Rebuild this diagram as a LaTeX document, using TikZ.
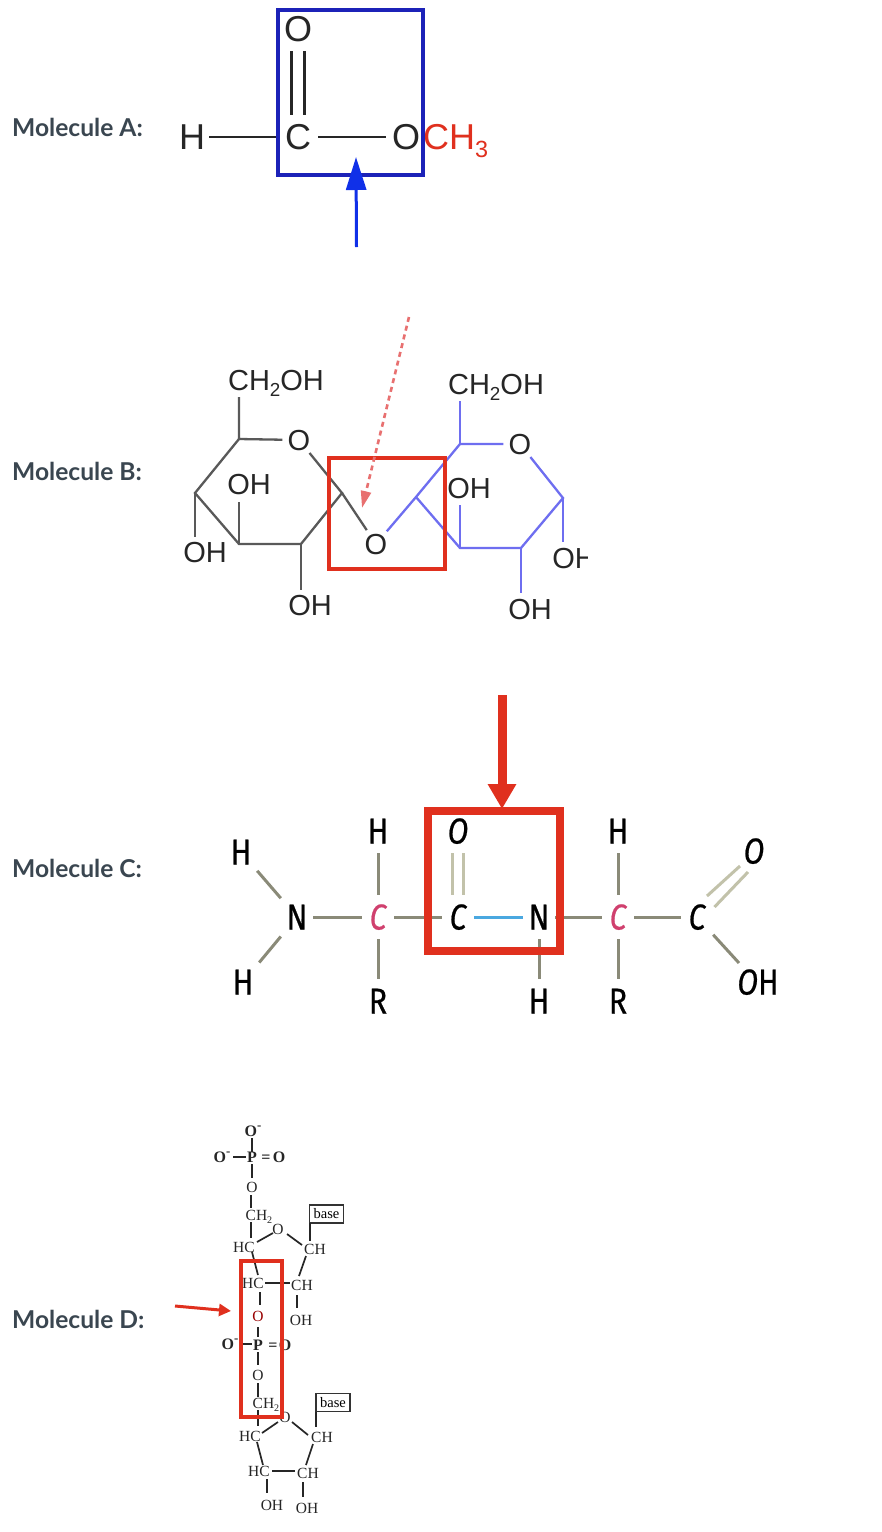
\documentclass[tikz,border=0pt]{standalone}
\usepackage{fontspec}
\usetikzlibrary{arrows.meta}
\setmainfont{Liberation Sans}
\newfontfamily\lblf{Lato}
\newfontfamily\handf[FakeStretch=0.84,FakeBold=0.6]{Fira Sans}
\newfontfamily\serf{Liberation Serif}
\newcommand{\subx}[1]{\raisebox{-.22em}{\scalebox{.65}{#1}}}
\newcommand{\supx}[1]{\raisebox{.42em}{\scalebox{.8}{#1}}}
\definecolor{lblc}{HTML}{3A4650}
\definecolor{boxblue}{HTML}{1C22B8}
\definecolor{arrblue}{HTML}{1030E8}
\definecolor{boxred}{HTML}{E0301E}
\definecolor{pinkarr}{HTML}{E87070}
\definecolor{sugarblue}{HTML}{6E6EF0}
\definecolor{sugartext}{HTML}{4A5CE6}
\definecolor{bondgray}{HTML}{8A8A78}
\definecolor{bondpale}{HTML}{C2C2AA}
\definecolor{pepblue}{HTML}{4AA8E0}
\definecolor{magc}{HTML}{D0406E}
\tikzset{
  lbl/.style={anchor=base west,inner sep=0pt,text=lblc,font=\lblf\bfseries\fontsize{24.6}{28}\selectfont},
  atomA/.style={inner sep=0pt,minimum width=40pt,minimum height=44pt,text height=25pt,text depth=0pt,text=black!85,font=\fontsize{36}{40}\selectfont},
  bondA/.style={line width=2.6pt,black!85},
  atomB/.style={inner sep=0pt,text height=20pt,text depth=0pt,text=black!85,font=\fontsize{29}{32}\selectfont},
  ringO/.style={atomB,circle,minimum size=33pt},
  bondB/.style={line width=2.3pt,black!65},
  bondS/.style={line width=2.3pt,sugarblue},
  atomC/.style={inner sep=0pt,minimum width=32pt,minimum height=44pt,text height=25pt,text depth=0pt,text=black,font=\handf\fontsize{36}{40}\selectfont},
  bondC/.style={line width=3pt,bondgray},
  atomD/.style={inner sep=0pt,text height=10.5pt,text depth=0pt,text=black!85,font=\serf\fontsize{15.5}{18}\selectfont},
  boldD/.style={atomD,font=\serf\bfseries\fontsize{16}{18}\selectfont},
  baseD/.style={draw=black!80,line width=1.2pt,inner sep=0pt,minimum width=34pt,minimum height=18pt,font=\serf\fontsize{14.5}{16}\selectfont},
  bondD/.style={line width=1.7pt,black!85}
}
\begin{document}
\begin{tikzpicture}[x=1pt,y=-1pt]
\useasboundingbox (0,0) rectangle (882,1532);
\fill[white] (0,0) rectangle (882,1532);
% labels
\node[lbl] (la) at (12,136) {Molecule A:};
\node[lbl] (lb) at (12,480) {Molecule B:};
\node[lbl] (lc) at (12,877) {Molecule C:};
\node[lbl] (ld) at (12,1328) {Molecule D:};

% ---------- Molecule A
\node[atomA] (aO) at (298,29) {O};
\node[atomA] (aC) at (298,137) {C};
\node[atomA,minimum width=34pt] (aH) at (192,137) {H};
\node[atomA] (aR) at (406,137) {O};
\node[atomA,anchor=west,minimum width=0pt,text=boxred] (aM) at (423,137) {CH\subx{3}};
\draw[bondA] ([xshift=-6.5pt]aC.north) -- ([xshift=-6.5pt]aO.south);
\draw[bondA] ([xshift=6.5pt]aC.north) -- ([xshift=6.5pt]aO.south);
\draw[bondA] (aH) -- (aC);
\draw[bondA] (aC) -- (aR);
\node[draw=boxblue,line width=4pt,minimum width=145pt,minimum height=165pt,inner sep=0pt] (aBox) at (350.5,92.5) {};
\coordinate (aT) at (356.5,247);
\coordinate (aP) at (356,157);
\draw[arrblue,line width=3pt,-{Triangle[width=20pt,length=33pt]}] (aT) -- (aP);

% ---------- Molecule B, black ring
\node[atomB] (b1) at (276,380) {CH\subx{2}OH};
\node[ringO] (bO) at (299,440) {O};
\node[atomB] (bh3) at (249,484) {OH};
\node[atomB] (bh4) at (205,552) {OH};
\node[atomB] (bh2) at (310,605) {OH};
\coordinate (v5) at (239,439);
\coordinate (v1) at (342,493);
\coordinate (v2) at (301,544);
\coordinate (v3) at (239,544);
\coordinate (v4) at (195,493);
\coordinate (s5) at (239,397);
\coordinate (s3) at (239,502);
\coordinate (s4) at (195,537);
\coordinate (s2) at (301,590);
\draw[bondB] (s5) -- (v5) -- (bO);
\draw[bondB] (bO) -- (v1) -- (v2) -- (v3) -- (v4) -- (v5);
\draw[bondB] (v4) -- (s4);
\draw[bondB] (v3) -- (s3);
\draw[bondB] (v2) -- (s2);
% blue ring
\begin{scope}[every node/.append style={text=sugartext}]
\node[ringO] (gO) at (376,544) {O};
\node[atomB] (g1) at (496,384) {CH\subx{2}OH};
\node[ringO] (rO) at (520,444) {O};
\node[atomB] (gh3) at (469,488) {OH};
\node[atomB] (gh2) at (530,609) {OH};
\begin{scope}
\clip (540,530) rectangle (587,585);
\node[atomB] (gh1) at (574,558) {OH};
\end{scope}
\end{scope}
\coordinate (w5) at (460,444);
\coordinate (w4) at (416,497);
\coordinate (w3) at (460,548);
\coordinate (w2) at (521,548);
\coordinate (w1) at (563,498);
\coordinate (t5) at (460,401);
\coordinate (t3) at (460,505);
\coordinate (t2) at (521,593);
\coordinate (t1) at (563,542);
\draw[bondB] (v1) -- (gO);
\draw[bondS] (gO) -- (w4) -- (w5) -- (rO);
\draw[bondS] (rO) -- (w1) -- (w2) -- (w3) -- (w4);
\draw[bondS] (t5) -- (w5);
\draw[bondS] (t3) -- (w3);
\draw[bondS] (w2) -- (t2);
\draw[bondS] (w1) -- (t1);
\node[draw=boxred,line width=4pt,minimum width=116pt,minimum height=111pt,inner sep=0pt] (bBox) at (387,513.5) {};
\coordinate (bT) at (409,317);
\coordinate (bP) at (362,508);
\draw[pinkarr,line width=2.6pt,dash pattern=on 5pt off 4pt,-{Triangle[width=10pt,length=17pt]}] (bT) -- (bP);

% ---------- Molecule C
\node[atomC] (cHa) at (241,852) {H};
\node[atomC] (cHb) at (243,982) {H};
\node[atomC] (cN1) at (297,917) {N};
\node[atomC,text=magc] (cC1) at (378,917) {\itshape C};
\node[atomC] (cH1) at (378,831) {H};
\node[atomC] (cR1) at (378,1001) {R};
\node[atomC] (cC2) at (458,917) {\itshape C};
\node[atomC] (cO2) at (458,831) {\itshape O};
\node[atomC] (cN2) at (539,917) {N};
\node[atomC] (cH2) at (539,1001) {H};
\node[atomC,text=magc] (cC3) at (618,917) {\itshape C};
\node[atomC] (cH3) at (618,831) {H};
\node[atomC] (cR3) at (618,1001) {R};
\node[atomC] (cC4) at (697,917) {\itshape C};
\node[atomC] (cO4) at (754,851) {\itshape O};
\node[atomC,minimum width=0pt] (cOH) at (758,982) {\itshape O\upshape H};
\coordinate (cOHe) at (739,963);
\coordinate (dbA1) at (707,896);
\coordinate (dbA2) at (740,866);
\coordinate (dbB1) at (714.5,907);
\coordinate (dbB2) at (748,872);
\draw[bondC] (cN1) -- (cHa);
\draw[bondC] (cN1) -- (cHb);
\draw[bondC] (cN1) -- (cC1);
\draw[bondC] (cC1) -- (cH1);
\draw[bondC] (cC1) -- (cR1);
\draw[bondC] (cC1) -- (cC2);
\draw[bondC,bondpale] ([xshift=-5.5pt]cC2.north) -- ([xshift=-5.5pt]cO2.south);
\draw[bondC,bondpale] ([xshift=5pt]cC2.north) -- ([xshift=5pt]cO2.south);
\draw[bondC,pepblue] (cC2) -- (cN2);
\draw[bondC] (cN2) -- (cC3);
\draw[bondC] (cN2) -- (cH2);
\draw[bondC] (cC3) -- (cH3);
\draw[bondC] (cC3) -- (cR3);
\draw[bondC] (cC3) -- (cC4);
\draw[bondC,bondpale] (dbA1) -- (dbA2);
\draw[bondC,bondpale] (dbB1) -- (dbB2);
\draw[bondC] (cC4) -- (cOHe);
\node[draw=boxred,line width=8.5pt,minimum width=132pt,minimum height=140pt,inner sep=0pt] (cBox) at (494,881) {};
\coordinate (cT) at (502,695);
\coordinate (cP) at (502,809);
\draw[boxred,line width=9pt,-{Triangle[width=27pt,length=25pt]}] (cT) -- (cP);

% ---------- Molecule D, upper nucleotide
\node[boldD] (dO1) at (253,1131) {O\supx{-}};
\node[boldD] (dP1) at (252,1157) {P};
\node[boldD] (dO2) at (222,1157) {O\supx{-}};
\node[boldD] (dEq1) at (266,1157) {=};
\node[boldD] (dO3) at (279,1157) {O};
\node[atomD] (dO4) at (252,1187) {O};
\node[atomD] (dCa) at (259,1215) {CH\subx{2}};
\node[atomD] (dHa) at (244,1247) {HC};
\node[atomD] (dOa) at (278,1229) {O};
\node[atomD] (dCb) at (315,1249) {CH};
\node[baseD] (dBa) at (326.5,1214) {base};
\node[atomD] (dHb) at (253,1283) {HC};
\node[atomD] (dCc) at (302,1285) {CH};
\node[atomD,text=red!60!black] (dO5) at (258,1316) {O};
\node[atomD] (dOHa) at (301,1320) {OH};
\foreach \n/\x/\y in {a1/252/1138,a2/252/1152,a3/233/1157,a4/246/1157,a5/252/1164,a6/252/1178,a7/251/1195,a8/251/1208,a9/251/1222,a10/251/1238,a11/257/1242,a12/273/1233,a13/287/1234,a14/302/1245,a15/310/1223,a16/310/1241,a17/306/1256,a18/299/1276,a19/252/1252,a20/258/1275,a21/265/1283,a22/290/1283,a23/260/1292,a24/260/1305,a25/297/1295,a26/297/1308}
  {\coordinate (\n) at (\x,\y);}
\foreach \p/\q in {a1/a2,a3/a4,a5/a6,a7/a8,a9/a10,a11/a12,a13/a14,a15/a16,a17/a18,a19/a20,a21/a22,a23/a24,a25/a26}
  {\draw[bondD] (\p) -- (\q);}
% lower nucleotide
\node[boldD] (eO2) at (230,1344) {O\supx{-}};
\node[boldD] (eP) at (258,1345) {P};
\node[boldD] (eEq) at (273,1345) {=};
\node[boldD] (eO3) at (285,1345) {O};
\node[atomD] (eO4) at (258,1375) {O};
\node[atomD] (eCa) at (266,1403) {CH\subx{2}};
\node[atomD] (eHa) at (250,1436) {HC};
\node[atomD] (eOa) at (285,1417) {O};
\node[atomD] (eCb) at (322,1437) {CH};
\node[baseD] (eBa) at (333,1402.5) {base};
\node[atomD] (eHb) at (259,1471) {HC};
\node[atomD] (eCc) at (308,1473) {CH};
\node[atomD] (eOHa) at (272,1505) {OH};
\node[atomD] (eOHb) at (307,1508) {OH};
\foreach \n/\x/\y in {b1/258/1327,b2/258/1337,b3/243/1344,b4/252/1344,b5/258/1352,b6/258/1365,b7/258/1383,b8/258/1397,b9/258/1410,b10/258/1426,b11/262/1433,b12/278/1422,b13/292/1422,b14/308/1435,b15/316/1412,b16/316/1427,b17/313/1444,b18/306/1465,b19/257/1442,b20/263/1465,b21/272/1471,b22/295/1471,b23/267/1479,b24/267/1493,b25/303/1482,b26/303/1497}
  {\coordinate (\n) at (\x,\y);}
\foreach \p/\q in {b1/b2,b3/b4,b5/b6,b7/b8,b9/b10,b11/b12,b13/b14,b15/b16,b17/b18,b19/b20,b21/b22,b23/b24,b25/b26}
  {\draw[bondD] (\p) -- (\q);}
\node[draw=boxred,line width=4.5pt,minimum width=41pt,minimum height=156pt,inner sep=0pt] (dBox) at (261.5,1339) {};
\coordinate (dT) at (175,1306);
\coordinate (dP) at (231,1311);
\draw[boxred,line width=3pt,-{Triangle[width=12pt,length=12pt]}] (dT) -- (dP);
\end{tikzpicture}
\end{document}
